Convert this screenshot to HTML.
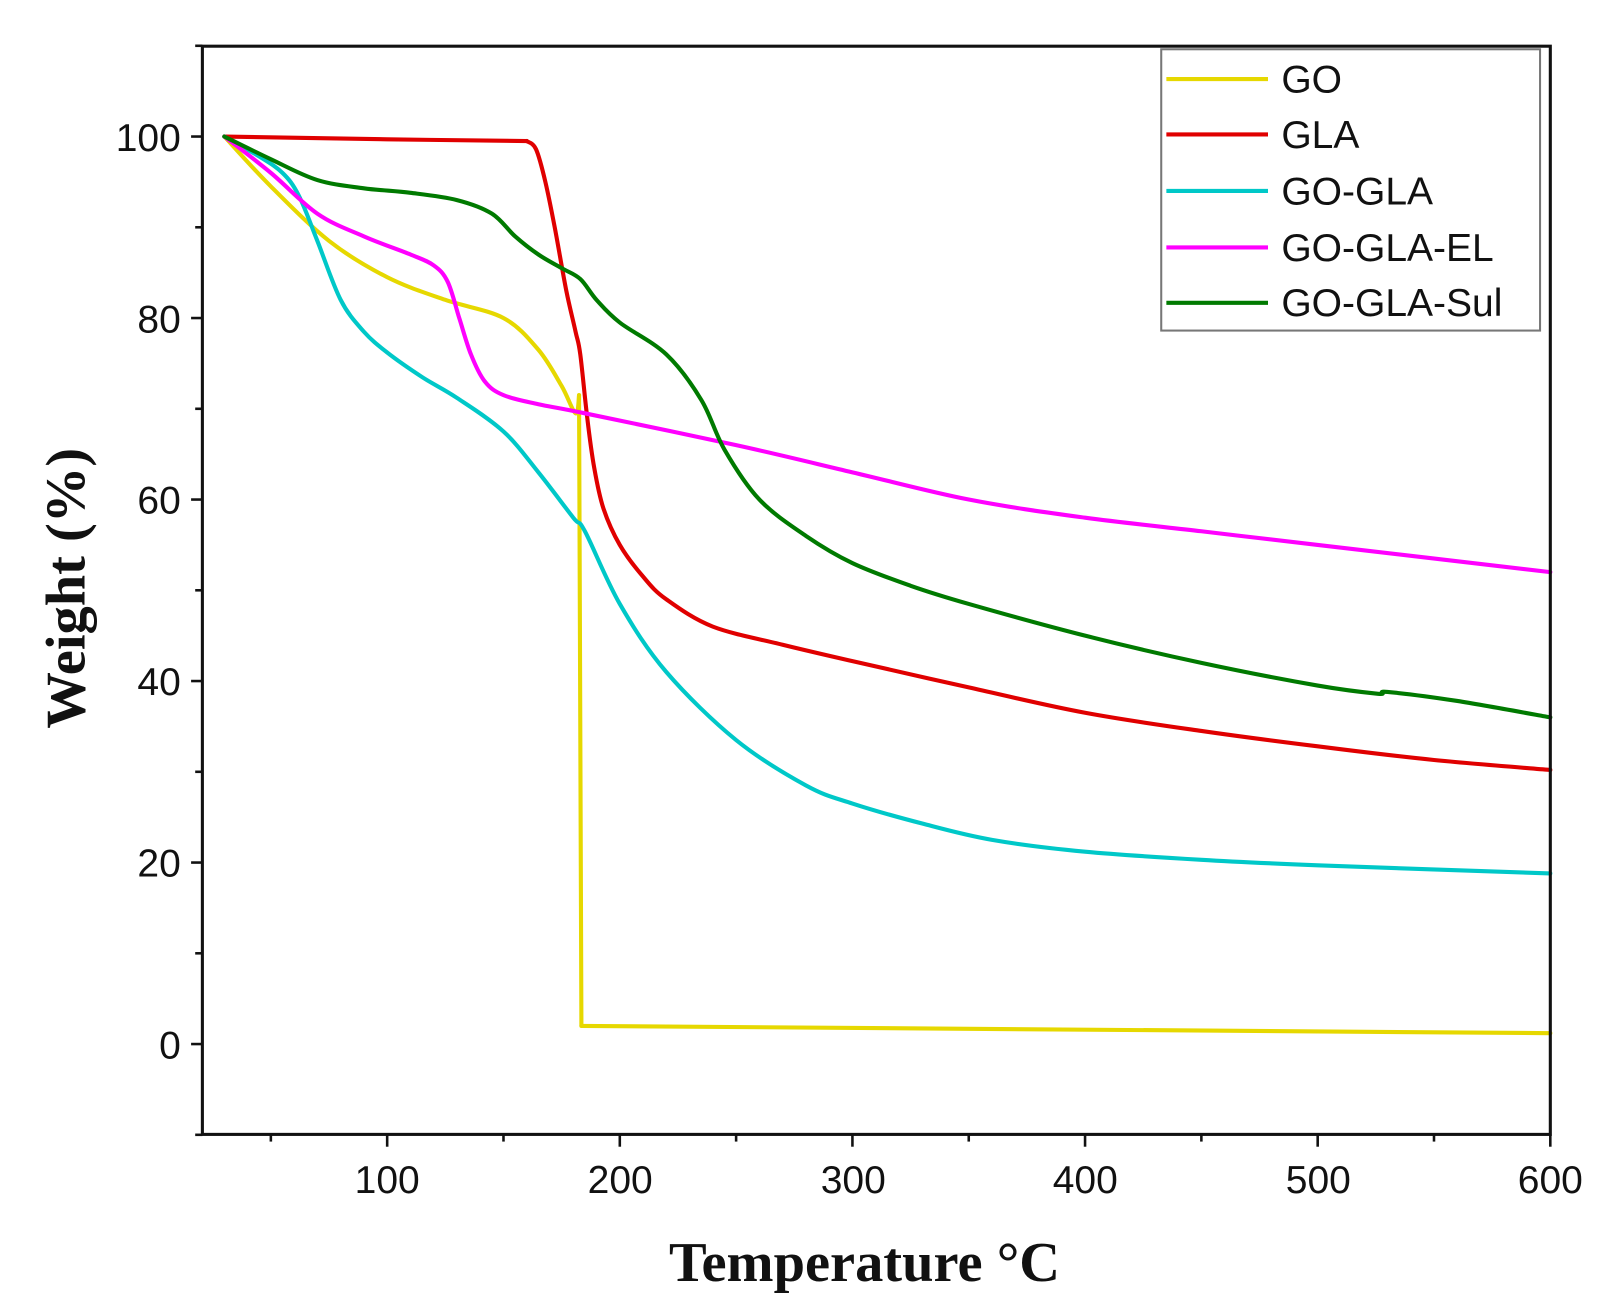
<!DOCTYPE html>
<html><head><meta charset="utf-8"><style>
html,body{margin:0;padding:0;background:#fff;}
svg{display:block}
.t{font-family:"Liberation Sans",sans-serif;font-size:38px;fill:#111}
.ti{font-family:"Liberation Serif",serif;font-weight:bold;font-size:55px;fill:#111}
</style></head><body>
<svg id="s" width="1610" height="1312" viewBox="0 0 1568 1278" xmlns="http://www.w3.org/2000/svg">
<rect x="0" y="0" width="1568" height="1278" fill="#fff"/>
<g id="curves" fill="none" stroke-width="4" stroke-linejoin="round" stroke-linecap="round"></g>
<rect x="197" y="45" width="1313" height="1060" fill="none" stroke="#111" stroke-width="3"/>
<g id="ticks" stroke="#111" stroke-width="2.5"></g>
<g class="t" text-anchor="end">
<text x="176" y="1031">0</text>
<text x="176" y="854">20</text>
<text x="176" y="677">40</text>
<text x="176" y="500">60</text>
<text x="176" y="324">80</text>
<text x="176" y="147">100</text>
</g>
<g class="t" text-anchor="middle">
<text x="377" y="1162">100</text>
<text x="604" y="1162">200</text>
<text x="831" y="1162">300</text>
<text x="1057" y="1162">400</text>
<text x="1284" y="1162">500</text>
<text x="1510" y="1162">600</text>
</g>
<text class="ti" x="842" y="1248" text-anchor="middle">Temperature °C</text>
<text class="ti" x="0" y="0" text-anchor="middle" transform="translate(82,573) rotate(-90)">Weight (%)</text>
<rect x="1131" y="48" width="369" height="274" fill="#fff" stroke="#777" stroke-width="2"/>
<g stroke-width="4">
<line x1="1136" y1="77" x2="1235" y2="77" stroke="#e6d800"/>
<line x1="1136" y1="131" x2="1235" y2="131" stroke="#e00000"/>
<line x1="1136" y1="186" x2="1235" y2="186" stroke="#00c8c8"/>
<line x1="1136" y1="241" x2="1235" y2="241" stroke="#ff00ff"/>
<line x1="1136" y1="295" x2="1235" y2="295" stroke="#007a00"/>
</g>
<g class="t">
<text x="1248" y="90">GO</text>
<text x="1248" y="144">GLA</text>
<text x="1248" y="199">GO-GLA</text>
<text x="1248" y="254">GO-GLA-EL</text>
<text x="1248" y="308">GO-GLA-Sul</text>
</g>
</svg>
<script>
const X=T=>377+(T-100)*2.266, Y=W=>1017-W*8.84;
const NS="http://www.w3.org/2000/svg";
const data=[
["#e6d800",[[30,100],[50,94.5],[75,88.5],[100,84.5],[125,82],[150,80],[165,76.5],[175,72.5],[181,69.5],[182.5,71.5]]],
["#e6d800",[[182.5,71.5],[183.5,2]]],
["#e6d800",[[183.5,2],[600,1.2]]],
["#e00000",[[30,100],[100,99.7],[160,99.5]]],
["#e00000",[[160,99.5],[164,98.6],[168,95],[172,90],[177,83],[181,78.5],[183,76],[186,69],[189,63.5],[193,59],[200,55],[210,51.5],[220,49],[240,46],[270,44],[300,42.2],[350,39.3],[400,36.5],[450,34.5],[500,32.8],[550,31.3],[600,30.2]]],
["#00c8c8",[[30,100],[45,97.8],[55,96],[62,93.5],[70,88.5],[80,82],[90,78.5],[100,76.2],[115,73.5],[130,71.2],[150,67.5],[165,63],[180,58],[185,56.5],[200,48.5],[220,41],[250,33.5],[280,28.5],[300,26.5],[330,24.3],[360,22.5],[400,21.2],[450,20.3],[500,19.7],[600,18.8]]],
["#ff00ff",[[30,100],[50,96],[70,91.5],[90,89],[110,87],[120,85.8],[126,84],[131,80],[136,76],[142,73],[150,71.5],[165,70.5],[185,69.5],[250,66],[300,63],[350,60],[400,58],[450,56.5],[500,55],[600,52]]],
["#007a00",[[30,100],[50,97.5],[70,95.2],[90,94.3],[110,93.8],[130,93],[145,91.5],[155,89],[165,87],[175,85.5],[183,84.3],[190,82],[200,79.5],[220,76],[235,71],[245,65.5],[260,60],[280,56],[300,53],[325,50.5],[350,48.5],[400,45],[450,42],[500,39.5],[526,38.6],[530,38.8],[560,37.8],[600,36]]]];
const g=document.getElementById("curves");
for(const [c,pts] of data){
 const P=pts.map(a=>[X(a[0]),Y(a[1])]);
 let d="M"+P[0][0].toFixed(1)+","+P[0][1].toFixed(1);
 if(P.length==2){d+=" L"+P[1][0].toFixed(1)+","+P[1][1].toFixed(1);}
 else for(let i=0;i<P.length-1;i++){
  const p0=P[Math.max(0,i-1)],p1=P[i],p2=P[i+1],p3=P[Math.min(P.length-1,i+2)];
  const c1=[p1[0]+(p2[0]-p0[0])/6,p1[1]+(p2[1]-p0[1])/6];
  const c2=[p2[0]-(p3[0]-p1[0])/6,p2[1]-(p3[1]-p1[1])/6];
  d+=" C"+c1.map(v=>v.toFixed(1))+" "+c2.map(v=>v.toFixed(1))+" "+p2.map(v=>v.toFixed(1));
 }
 const p=document.createElementNS(NS,"path");p.setAttribute("d",d);p.setAttribute("stroke",c);g.appendChild(p);}
const tk=document.getElementById("ticks");
function ln(a,b,c,d){const l=document.createElementNS(NS,"line");l.setAttribute("x1",a);l.setAttribute("y1",b);l.setAttribute("x2",c);l.setAttribute("y2",d);tk.appendChild(l);}
for(let w=-10;w<=110;w+=10){const y=Y(w);ln(197,y,w%20==0?186:190,y);}
for(let t=50;t<=600;t+=50){const x=X(t);ln(x,1105,x,t%100==0?1117:1112);}
</script>
</body></html>
